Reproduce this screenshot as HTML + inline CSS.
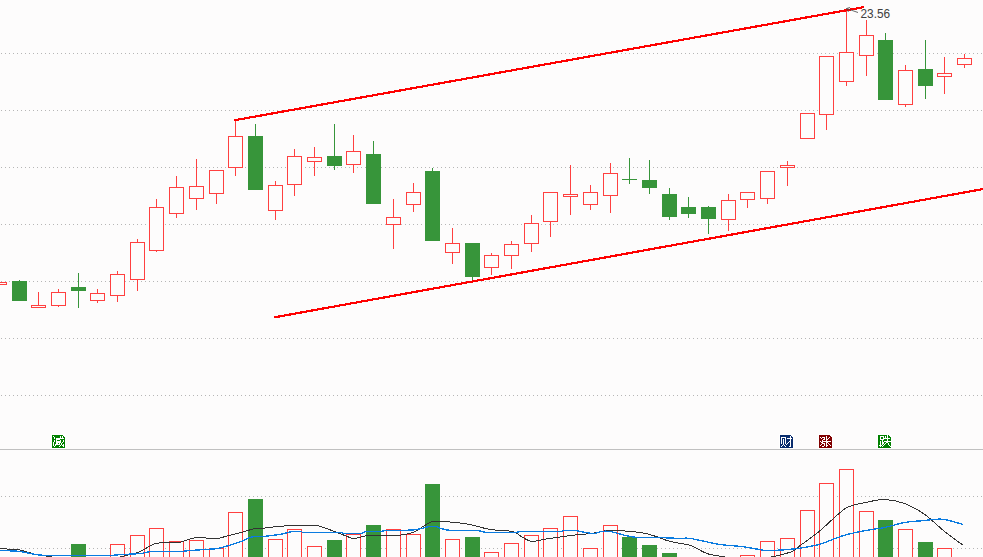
<!DOCTYPE html>
<html><head><meta charset="utf-8"><title>chart</title>
<style>html,body{margin:0;padding:0;background:#fdfcfc;overflow:hidden}svg{display:block}</style></head>
<body><svg width="983" height="557" viewBox="0 0 983 557">
<rect width="983" height="557" fill="#fdfcfc"/>
<g shape-rendering="crispEdges">
<line x1="1" y1="53.5" x2="983" y2="53.5" stroke="#b6b6b6" stroke-dasharray="1 3"/>
<line x1="1" y1="110.5" x2="983" y2="110.5" stroke="#b6b6b6" stroke-dasharray="1 3"/>
<line x1="1" y1="167.5" x2="983" y2="167.5" stroke="#b6b6b6" stroke-dasharray="1 3"/>
<line x1="1" y1="224.5" x2="983" y2="224.5" stroke="#b6b6b6" stroke-dasharray="1 3"/>
<line x1="1" y1="281.5" x2="983" y2="281.5" stroke="#b6b6b6" stroke-dasharray="1 3"/>
<line x1="1" y1="338.5" x2="983" y2="338.5" stroke="#b6b6b6" stroke-dasharray="1 3"/>
<line x1="1" y1="395.5" x2="983" y2="395.5" stroke="#b6b6b6" stroke-dasharray="1 3"/>
<line x1="1" y1="496.5" x2="983" y2="496.5" stroke="#b6b6b6" stroke-dasharray="1 3"/>
<line x1="1" y1="548.5" x2="983" y2="548.5" stroke="#b6b6b6" stroke-dasharray="1 3"/>
<rect x="0" y="449" width="983" height="1" fill="#c0c0c0"/>
<rect x="71" y="544" width="15" height="15" fill="#37953a"/>
<rect x="110.5" y="544.5" width="14" height="17" fill="#fdfcfc" stroke="#ff4040"/>
<rect x="130.5" y="535.5" width="14" height="26" fill="#fdfcfc" stroke="#ff4040"/>
<rect x="149.5" y="528.5" width="14" height="33" fill="#fdfcfc" stroke="#ff4040"/>
<rect x="169.5" y="541.5" width="14" height="20" fill="#fdfcfc" stroke="#ff4040"/>
<rect x="189.5" y="540.5" width="14" height="21" fill="#fdfcfc" stroke="#ff4040"/>
<rect x="209.5" y="548.5" width="14" height="13" fill="#fdfcfc" stroke="#ff4040"/>
<rect x="228.5" y="512.5" width="14" height="49" fill="#fdfcfc" stroke="#ff4040"/>
<rect x="248" y="499" width="15" height="60" fill="#37953a"/>
<rect x="268.5" y="539.5" width="14" height="22" fill="#fdfcfc" stroke="#ff4040"/>
<rect x="287.5" y="529.5" width="14" height="32" fill="#fdfcfc" stroke="#ff4040"/>
<rect x="307.5" y="546.5" width="14" height="15" fill="#fdfcfc" stroke="#ff4040"/>
<rect x="327" y="540" width="15" height="19" fill="#37953a"/>
<rect x="346.5" y="534.5" width="14" height="27" fill="#fdfcfc" stroke="#ff4040"/>
<rect x="366" y="525" width="15" height="34" fill="#37953a"/>
<rect x="386.5" y="529.5" width="14" height="32" fill="#fdfcfc" stroke="#ff4040"/>
<rect x="406.5" y="534.5" width="14" height="27" fill="#fdfcfc" stroke="#ff4040"/>
<rect x="425" y="484" width="15" height="75" fill="#37953a"/>
<rect x="445.5" y="539.5" width="14" height="22" fill="#fdfcfc" stroke="#ff4040"/>
<rect x="465" y="537" width="15" height="22" fill="#37953a"/>
<rect x="484.5" y="552.5" width="14" height="9" fill="#fdfcfc" stroke="#ff4040"/>
<rect x="504.5" y="543.5" width="14" height="18" fill="#fdfcfc" stroke="#ff4040"/>
<rect x="524.5" y="535.5" width="14" height="26" fill="#fdfcfc" stroke="#ff4040"/>
<rect x="543.5" y="528.5" width="14" height="33" fill="#fdfcfc" stroke="#ff4040"/>
<rect x="563.5" y="516.5" width="14" height="45" fill="#fdfcfc" stroke="#ff4040"/>
<rect x="583.5" y="548.5" width="14" height="13" fill="#fdfcfc" stroke="#ff4040"/>
<rect x="603.5" y="525.5" width="14" height="36" fill="#fdfcfc" stroke="#ff4040"/>
<rect x="622" y="537" width="15" height="22" fill="#37953a"/>
<rect x="642" y="545" width="15" height="14" fill="#37953a"/>
<rect x="662" y="553" width="15" height="6" fill="#37953a"/>
<rect x="740.5" y="555.5" width="14" height="6" fill="#fdfcfc" stroke="#ff4040"/>
<rect x="760.5" y="541.5" width="14" height="20" fill="#fdfcfc" stroke="#ff4040"/>
<rect x="780.5" y="538.5" width="14" height="23" fill="#fdfcfc" stroke="#ff4040"/>
<rect x="800.5" y="510.5" width="14" height="51" fill="#fdfcfc" stroke="#ff4040"/>
<rect x="819.5" y="483.5" width="14" height="78" fill="#fdfcfc" stroke="#ff4040"/>
<rect x="839.5" y="469.5" width="14" height="92" fill="#fdfcfc" stroke="#ff4040"/>
<rect x="859.5" y="511.5" width="14" height="50" fill="#fdfcfc" stroke="#ff4040"/>
<rect x="878" y="520" width="15" height="39" fill="#37953a"/>
<rect x="898.5" y="529.5" width="14" height="32" fill="#fdfcfc" stroke="#ff4040"/>
<rect x="918" y="542" width="15" height="17" fill="#37953a"/>
<rect x="937.5" y="548.5" width="14" height="13" fill="#fdfcfc" stroke="#ff4040"/>
</g>
<path shape-rendering="crispEdges" fill="none" stroke="#333333" stroke-width="1" d="M0 548.5 C2.3 548.7 10.3 549.2 14 549.5 C17.7 549.8 18.8 549.7 22.4 550.5 C26.0 551.3 31.0 553.5 35.6 554.5 C40.2 555.5 45.7 555.8 49.8 556.5 C53.9 557.2 50.0 558.2 60 558.5 C70.0 558.8 99.7 558.8 110 558.5 C120.3 558.2 116.9 557.7 122 556.5 C127.1 555.3 134.8 553.7 140.4 551.5 C146.0 549.3 149.2 545.0 155.6 543.5 C162.0 542.0 173.6 543.2 179 542.5 C184.4 541.8 185.2 540.3 188.1 539.5 C191.0 538.7 193.8 537.8 196.3 537.5 C198.9 537.2 201.4 537.3 203.4 537.5 C205.4 537.7 206.1 538.3 208.5 538.5 C210.9 538.7 214.2 539.0 217.6 538.5 C221.0 538.0 224.9 536.5 228.8 535.5 C232.7 534.5 236.6 533.7 241 532.5 C245.4 531.3 251.6 529.2 255.3 528.5 C259.0 527.8 261.4 528.7 263.4 528.5 C265.4 528.3 264.8 527.8 267.5 527.5 C270.2 527.2 275.8 526.8 279.7 526.5 C283.6 526.2 285.1 525.7 290.9 525.5 C296.7 525.3 309.4 525.3 314.3 525.5 C319.2 525.7 317.0 525.5 320.4 526.5 C323.8 527.5 330.5 530.0 334.6 531.5 C338.7 533.0 341.8 534.3 344.8 535.5 C347.9 536.7 350.5 538.2 352.9 538.5 C355.3 538.8 356.3 538.0 359 537.5 C361.7 537.0 362.9 535.8 369.2 535.5 C375.5 535.2 389.3 536.0 396.6 535.5 C403.9 535.0 408.5 534.0 412.9 532.5 C417.3 531.0 419.9 528.3 423.1 526.5 C426.3 524.7 429.1 522.3 432.2 521.5 C435.2 520.7 437.5 521.3 441.4 521.5 C445.3 521.7 450.9 522.0 455.6 522.5 C460.4 523.0 464.1 523.3 469.9 524.5 C475.7 525.7 483.1 528.3 490.2 529.5 C497.3 530.7 507.2 530.2 512.6 531.5 C518.0 532.8 519.6 535.8 522.8 537.5 C526.0 539.2 528.5 541.2 531.9 541.5 C535.3 541.8 539.0 540.2 543.1 539.5 C547.2 538.8 551.7 538.2 556.3 537.5 C560.9 536.8 564.7 536.2 570.5 535.5 C576.3 534.8 584.4 534.3 590.9 533.5 C597.4 532.7 602.4 530.8 609.2 530.5 C616.0 530.2 625.5 531.0 631.6 531.5 C637.7 532.0 641.7 532.7 645.8 533.5 C649.9 534.3 651.9 535.2 656 536.5 C660.1 537.8 664.4 540.0 670.2 541.5 C676.0 543.0 684.5 543.5 690.6 545.5 C696.7 547.5 701.5 551.7 706.8 553.5 C712.0 555.3 717.4 555.7 722.1 556.5 C726.8 557.3 728.7 558.2 735 558.5 C741.3 558.8 753.6 558.8 760 558.5 C766.4 558.2 768.1 557.7 773.5 556.5 C778.9 555.3 787.7 553.3 792.2 551.5 C796.7 549.7 795.8 548.8 800.3 545.5 C804.8 542.2 813.6 535.8 819 531.5 C824.4 527.2 827.7 523.5 832.4 519.5 C837.1 515.5 841.5 510.3 847.1 507.5 C852.7 504.7 859.6 503.8 865.8 502.5 C872.0 501.2 878.0 499.3 884.5 499.5 C891.0 499.7 897.9 501.0 904.6 503.5 C911.3 506.0 918.2 510.0 924.7 514.5 C931.2 519.0 937.0 525.3 943.4 530.5 C949.8 535.7 960.1 543.0 963.4 545.5"/>
<path shape-rendering="crispEdges" fill="none" stroke="#0a7be0" stroke-width="1.35" d="M0 550.5 C3.4 550.7 14.4 550.8 20.3 551.5 C26.2 552.2 30.5 553.8 35.6 554.5 C40.7 555.2 39.2 555.3 50.9 555.5 C62.6 555.7 94.0 555.7 105.8 555.5 C117.6 555.3 116.2 554.8 122 554.5 C127.8 554.2 135.3 554.0 140.4 553.5 C145.5 553.0 146.2 551.8 152.6 551.5 C159.0 551.2 172.7 551.7 179 551.5 C185.3 551.3 186.0 550.8 190.2 550.5 C194.4 550.2 199.8 549.8 204.4 549.5 C209.0 549.2 213.5 549.2 217.6 548.5 C221.7 547.8 224.9 546.7 228.8 545.5 C232.7 544.3 237.4 542.8 241 541.5 C244.6 540.2 247.8 538.3 250.2 537.5 C252.6 536.7 253.1 536.7 255.3 536.5 C257.5 536.3 260.7 536.7 263.4 536.5 C266.1 536.3 268.9 535.8 271.6 535.5 C274.3 535.2 277.0 535.0 279.7 534.5 C282.4 534.0 285.6 533.0 287.8 532.5 C290.0 532.0 290.7 531.7 292.9 531.5 C295.1 531.3 298.9 531.3 301.1 531.5 C303.3 531.7 299.8 532.3 306.1 532.5 C312.4 532.7 332.2 532.3 338.7 532.5 C345.1 532.7 341.1 533.3 344.8 533.5 C348.5 533.7 357.6 533.8 361.1 533.5 C364.7 533.2 362.9 531.8 366.1 531.5 C369.3 531.2 376.9 531.7 380.3 531.5 C383.7 531.3 383.0 530.7 386.4 530.5 C389.8 530.3 395.6 530.7 400.7 530.5 C405.8 530.3 412.2 530.2 417 529.5 C421.8 528.8 426.1 527.0 429.2 526.5 C432.2 526.0 433.3 526.2 435.3 526.5 C437.3 526.8 438.7 527.8 441.4 528.5 C444.1 529.2 445.8 530.2 451.6 530.5 C457.4 530.8 469.9 530.2 476 530.5 C482.1 530.8 481.8 532.2 488.2 532.5 C494.6 532.8 508.8 532.7 514.6 532.5 C520.4 532.3 515.5 531.7 522.8 531.5 C530.1 531.3 551.4 531.7 558.3 531.5 C565.2 531.3 561.7 530.7 564.4 530.5 C567.1 530.3 569.9 530.0 574.6 530.5 C579.4 531.0 588.5 533.3 592.9 533.5 C597.3 533.7 598.1 531.8 601 531.5 C603.9 531.2 606.1 530.8 610.2 531.5 C614.3 532.2 620.9 534.5 625.5 535.5 C630.1 536.5 632.3 537.2 637.7 537.5 C643.1 537.8 650.9 537.3 658 537.5 C665.1 537.7 675.0 538.3 680.4 538.5 C685.8 538.7 684.0 537.5 690.6 538.5 C697.2 539.5 711.5 543.2 720 544.5 C728.5 545.8 733.8 545.5 741.4 546.5 C749.0 547.5 760.1 549.8 765.5 550.5 C770.9 551.2 768.1 550.8 773.5 550.5 C778.9 550.2 790.0 549.5 797.6 548.5 C805.2 547.5 813.2 546.0 819 544.5 C824.8 543.0 827.7 541.2 832.4 539.5 C837.1 537.8 841.5 536.0 847.1 534.5 C852.7 533.0 859.6 531.7 865.8 530.5 C872.0 529.3 878.0 528.8 884.5 527.5 C891.0 526.2 897.9 523.7 904.6 522.5 C911.3 521.3 919.8 521.0 924.7 520.5 C929.6 520.0 930.7 519.7 934 519.5 C937.3 519.3 939.8 518.7 944.7 519.5 C949.6 520.3 960.3 523.7 963.4 524.5"/>
<g shape-rendering="crispEdges">
<rect x="-7.5" y="282.5" width="14" height="2" fill="#fdfcfc" stroke="#ff4040"/>
<rect x="19" y="280" width="1" height="21" fill="#37953a"/>
<rect x="12" y="281" width="15" height="20" fill="#37953a"/>
<rect x="38" y="292" width="1" height="13" fill="#ff4040"/>
<rect x="31.5" y="305.5" width="14" height="2" fill="#fdfcfc" stroke="#ff4040"/>
<rect x="58" y="289" width="1" height="3" fill="#ff4040"/>
<rect x="58" y="306" width="1" height="1" fill="#ff4040"/>
<rect x="51.5" y="292.5" width="14" height="13" fill="#fdfcfc" stroke="#ff4040"/>
<rect x="78" y="273" width="1" height="35" fill="#37953a"/>
<rect x="71" y="287" width="15" height="4" fill="#37953a"/>
<rect x="97" y="289" width="1" height="4" fill="#ff4040"/>
<rect x="97" y="301" width="1" height="2" fill="#ff4040"/>
<rect x="90.5" y="293.5" width="14" height="7" fill="#fdfcfc" stroke="#ff4040"/>
<rect x="117" y="271" width="1" height="3" fill="#ff4040"/>
<rect x="117" y="296" width="1" height="6" fill="#ff4040"/>
<rect x="110.5" y="274.5" width="14" height="21" fill="#fdfcfc" stroke="#ff4040"/>
<rect x="137" y="239" width="1" height="3" fill="#ff4040"/>
<rect x="137" y="280" width="1" height="11" fill="#ff4040"/>
<rect x="130.5" y="242.5" width="14" height="37" fill="#fdfcfc" stroke="#ff4040"/>
<rect x="156" y="199" width="1" height="8" fill="#ff4040"/>
<rect x="156" y="251" width="1" height="1" fill="#ff4040"/>
<rect x="149.5" y="207.5" width="14" height="43" fill="#fdfcfc" stroke="#ff4040"/>
<rect x="176" y="176" width="1" height="11" fill="#ff4040"/>
<rect x="176" y="214" width="1" height="4" fill="#ff4040"/>
<rect x="169.5" y="187.5" width="14" height="26" fill="#fdfcfc" stroke="#ff4040"/>
<rect x="196" y="159" width="1" height="27" fill="#ff4040"/>
<rect x="196" y="199" width="1" height="11" fill="#ff4040"/>
<rect x="189.5" y="186.5" width="14" height="12" fill="#fdfcfc" stroke="#ff4040"/>
<rect x="216" y="194" width="1" height="10" fill="#ff4040"/>
<rect x="209.5" y="170.5" width="14" height="23" fill="#fdfcfc" stroke="#ff4040"/>
<rect x="235" y="120" width="1" height="16" fill="#ff4040"/>
<rect x="235" y="168" width="1" height="8" fill="#ff4040"/>
<rect x="228.5" y="136.5" width="14" height="31" fill="#fdfcfc" stroke="#ff4040"/>
<rect x="255" y="124" width="1" height="66" fill="#37953a"/>
<rect x="248" y="136" width="15" height="54" fill="#37953a"/>
<rect x="275" y="181" width="1" height="4" fill="#ff4040"/>
<rect x="275" y="211" width="1" height="9" fill="#ff4040"/>
<rect x="268.5" y="185.5" width="14" height="25" fill="#fdfcfc" stroke="#ff4040"/>
<rect x="294" y="149" width="1" height="7" fill="#ff4040"/>
<rect x="294" y="185" width="1" height="11" fill="#ff4040"/>
<rect x="287.5" y="156.5" width="14" height="28" fill="#fdfcfc" stroke="#ff4040"/>
<rect x="314" y="147" width="1" height="10" fill="#ff4040"/>
<rect x="314" y="162" width="1" height="14" fill="#ff4040"/>
<rect x="307.5" y="157.5" width="14" height="4" fill="#fdfcfc" stroke="#ff4040"/>
<rect x="334" y="124" width="1" height="46" fill="#37953a"/>
<rect x="327" y="156" width="15" height="10" fill="#37953a"/>
<rect x="353" y="135" width="1" height="16" fill="#ff4040"/>
<rect x="353" y="165" width="1" height="8" fill="#ff4040"/>
<rect x="346.5" y="151.5" width="14" height="13" fill="#fdfcfc" stroke="#ff4040"/>
<rect x="373" y="141" width="1" height="63" fill="#37953a"/>
<rect x="366" y="154" width="15" height="50" fill="#37953a"/>
<rect x="393" y="199" width="1" height="18" fill="#ff4040"/>
<rect x="393" y="225" width="1" height="24" fill="#ff4040"/>
<rect x="386.5" y="217.5" width="14" height="7" fill="#fdfcfc" stroke="#ff4040"/>
<rect x="413" y="183" width="1" height="9" fill="#ff4040"/>
<rect x="413" y="205" width="1" height="7" fill="#ff4040"/>
<rect x="406.5" y="192.5" width="14" height="12" fill="#fdfcfc" stroke="#ff4040"/>
<rect x="432" y="168" width="1" height="73" fill="#37953a"/>
<rect x="425" y="171" width="15" height="70" fill="#37953a"/>
<rect x="452" y="228" width="1" height="15" fill="#ff4040"/>
<rect x="452" y="253" width="1" height="11" fill="#ff4040"/>
<rect x="445.5" y="243.5" width="14" height="9" fill="#fdfcfc" stroke="#ff4040"/>
<rect x="472" y="243" width="1" height="37" fill="#37953a"/>
<rect x="465" y="243" width="15" height="34" fill="#37953a"/>
<rect x="491" y="253" width="1" height="2" fill="#ff4040"/>
<rect x="491" y="268" width="1" height="7" fill="#ff4040"/>
<rect x="484.5" y="255.5" width="14" height="12" fill="#fdfcfc" stroke="#ff4040"/>
<rect x="511" y="241" width="1" height="3" fill="#ff4040"/>
<rect x="511" y="256" width="1" height="13" fill="#ff4040"/>
<rect x="504.5" y="244.5" width="14" height="11" fill="#fdfcfc" stroke="#ff4040"/>
<rect x="531" y="215" width="1" height="8" fill="#ff4040"/>
<rect x="531" y="244" width="1" height="8" fill="#ff4040"/>
<rect x="524.5" y="223.5" width="14" height="20" fill="#fdfcfc" stroke="#ff4040"/>
<rect x="550" y="222" width="1" height="15" fill="#ff4040"/>
<rect x="543.5" y="192.5" width="14" height="29" fill="#fdfcfc" stroke="#ff4040"/>
<rect x="570" y="165" width="1" height="29" fill="#ff4040"/>
<rect x="570" y="197" width="1" height="18" fill="#ff4040"/>
<rect x="563.5" y="194.5" width="14" height="2" fill="#fdfcfc" stroke="#ff4040"/>
<rect x="590" y="185" width="1" height="7" fill="#ff4040"/>
<rect x="590" y="205" width="1" height="5" fill="#ff4040"/>
<rect x="583.5" y="192.5" width="14" height="12" fill="#fdfcfc" stroke="#ff4040"/>
<rect x="610" y="163" width="1" height="10" fill="#ff4040"/>
<rect x="610" y="196" width="1" height="17" fill="#ff4040"/>
<rect x="603.5" y="173.5" width="14" height="22" fill="#fdfcfc" stroke="#ff4040"/>
<rect x="629" y="158" width="1" height="26" fill="#37953a"/>
<rect x="622" y="179" width="15" height="1" fill="#37953a"/>
<rect x="649" y="160" width="1" height="34" fill="#37953a"/>
<rect x="642" y="180" width="15" height="8" fill="#37953a"/>
<rect x="669" y="188" width="1" height="32" fill="#37953a"/>
<rect x="662" y="194" width="15" height="23" fill="#37953a"/>
<rect x="688" y="197" width="1" height="21" fill="#37953a"/>
<rect x="681" y="207" width="15" height="7" fill="#37953a"/>
<rect x="708" y="206" width="1" height="28" fill="#37953a"/>
<rect x="701" y="207" width="15" height="12" fill="#37953a"/>
<rect x="728" y="194" width="1" height="6" fill="#ff4040"/>
<rect x="728" y="220" width="1" height="11" fill="#ff4040"/>
<rect x="721.5" y="200.5" width="14" height="19" fill="#fdfcfc" stroke="#ff4040"/>
<rect x="747" y="200" width="1" height="8" fill="#ff4040"/>
<rect x="740.5" y="192.5" width="14" height="7" fill="#fdfcfc" stroke="#ff4040"/>
<rect x="767" y="199" width="1" height="5" fill="#ff4040"/>
<rect x="760.5" y="171.5" width="14" height="27" fill="#fdfcfc" stroke="#ff4040"/>
<rect x="787" y="161" width="1" height="4" fill="#ff4040"/>
<rect x="787" y="168" width="1" height="18" fill="#ff4040"/>
<rect x="780.5" y="165.5" width="14" height="2" fill="#fdfcfc" stroke="#ff4040"/>
<rect x="800.5" y="113.5" width="14" height="25" fill="#fdfcfc" stroke="#ff4040"/>
<rect x="826" y="115" width="1" height="15" fill="#ff4040"/>
<rect x="819.5" y="56.5" width="14" height="58" fill="#fdfcfc" stroke="#ff4040"/>
<rect x="846" y="9" width="1" height="43" fill="#ff4040"/>
<rect x="846" y="82" width="1" height="4" fill="#ff4040"/>
<rect x="839.5" y="52.5" width="14" height="29" fill="#fdfcfc" stroke="#ff4040"/>
<rect x="866" y="20" width="1" height="15" fill="#ff4040"/>
<rect x="866" y="56" width="1" height="20" fill="#ff4040"/>
<rect x="859.5" y="35.5" width="14" height="20" fill="#fdfcfc" stroke="#ff4040"/>
<rect x="885" y="33" width="1" height="67" fill="#37953a"/>
<rect x="878" y="40" width="15" height="60" fill="#37953a"/>
<rect x="905" y="65" width="1" height="5" fill="#ff4040"/>
<rect x="905" y="105" width="1" height="2" fill="#ff4040"/>
<rect x="898.5" y="70.5" width="14" height="34" fill="#fdfcfc" stroke="#ff4040"/>
<rect x="925" y="40" width="1" height="59" fill="#37953a"/>
<rect x="918" y="69" width="15" height="17" fill="#37953a"/>
<rect x="944" y="57" width="1" height="16" fill="#ff4040"/>
<rect x="944" y="77" width="1" height="17" fill="#ff4040"/>
<rect x="937.5" y="73.5" width="14" height="3" fill="#fdfcfc" stroke="#ff4040"/>
<rect x="964" y="54" width="1" height="4" fill="#ff4040"/>
<rect x="964" y="65" width="1" height="3" fill="#ff4040"/>
<rect x="957.5" y="58.5" width="14" height="6" fill="#fdfcfc" stroke="#ff4040"/>
<line x1="234" y1="120.35" x2="864" y2="7.1" stroke="#ff0000" stroke-width="2.2"/>
<line x1="274" y1="317.4" x2="990" y2="187.8" stroke="#ff0000" stroke-width="2.2"/>
</g>
<path d="M846.5 8.5 L858 12.5 M846.5 8.5 L850 7.5 M846.5 8.5 L848.5 12" fill="none" stroke="#444" stroke-width="0.8"/>
<text x="860.5" y="18" font-family="Liberation Sans, sans-serif" font-size="12.5" textLength="29.6" lengthAdjust="spacingAndGlyphs" fill="#404040">23.56</text>
<g shape-rendering="crispEdges"><rect x="51" y="434" width="15" height="15" fill="#fff"/><path d="M52 435 h10.5 l2.5 2.5 v10.5 h-13 z" fill="#008000"/><rect x="53" y="436" width="1" height="1" fill="#fff"/><rect x="60" y="436" width="1" height="1" fill="#fff"/><rect x="62" y="436" width="1" height="1" fill="#fff"/><rect x="54" y="437" width="1" height="1" fill="#fff"/><rect x="60" y="437" width="1" height="1" fill="#fff"/><rect x="62" y="437" width="1" height="1" fill="#fff"/><rect x="54" y="438" width="1" height="1" fill="#fff"/><rect x="56" y="438" width="1" height="1" fill="#fff"/><rect x="57" y="438" width="1" height="1" fill="#fff"/><rect x="58" y="438" width="1" height="1" fill="#fff"/><rect x="59" y="438" width="1" height="1" fill="#fff"/><rect x="60" y="438" width="1" height="1" fill="#fff"/><rect x="61" y="438" width="1" height="1" fill="#fff"/><rect x="62" y="438" width="1" height="1" fill="#fff"/><rect x="63" y="438" width="1" height="1" fill="#fff"/><rect x="56" y="439" width="1" height="1" fill="#fff"/><rect x="57" y="439" width="1" height="1" fill="#fff"/><rect x="58" y="439" width="1" height="1" fill="#fff"/><rect x="59" y="439" width="1" height="1" fill="#fff"/><rect x="54" y="440" width="1" height="1" fill="#fff"/><rect x="56" y="440" width="1" height="1" fill="#fff"/><rect x="60" y="440" width="1" height="1" fill="#fff"/><rect x="63" y="440" width="1" height="1" fill="#fff"/><rect x="54" y="441" width="1" height="1" fill="#fff"/><rect x="56" y="441" width="1" height="1" fill="#fff"/><rect x="57" y="441" width="1" height="1" fill="#fff"/><rect x="58" y="441" width="1" height="1" fill="#fff"/><rect x="59" y="441" width="1" height="1" fill="#fff"/><rect x="60" y="441" width="1" height="1" fill="#fff"/><rect x="63" y="441" width="1" height="1" fill="#fff"/><rect x="53" y="442" width="1" height="1" fill="#fff"/><rect x="56" y="442" width="1" height="1" fill="#fff"/><rect x="57" y="442" width="1" height="1" fill="#fff"/><rect x="58" y="442" width="1" height="1" fill="#fff"/><rect x="59" y="442" width="1" height="1" fill="#fff"/><rect x="60" y="442" width="1" height="1" fill="#fff"/><rect x="62" y="442" width="1" height="1" fill="#fff"/><rect x="53" y="443" width="1" height="1" fill="#fff"/><rect x="56" y="443" width="1" height="1" fill="#fff"/><rect x="57" y="443" width="1" height="1" fill="#fff"/><rect x="59" y="443" width="1" height="1" fill="#fff"/><rect x="61" y="443" width="1" height="1" fill="#fff"/><rect x="53" y="444" width="1" height="1" fill="#fff"/><rect x="55" y="444" width="1" height="1" fill="#fff"/><rect x="56" y="444" width="1" height="1" fill="#fff"/><rect x="57" y="444" width="1" height="1" fill="#fff"/><rect x="58" y="444" width="1" height="1" fill="#fff"/><rect x="59" y="444" width="1" height="1" fill="#fff"/><rect x="61" y="444" width="1" height="1" fill="#fff"/><rect x="63" y="444" width="1" height="1" fill="#fff"/><rect x="53" y="445" width="1" height="1" fill="#fff"/><rect x="55" y="445" width="1" height="1" fill="#fff"/><rect x="60" y="445" width="1" height="1" fill="#fff"/><rect x="62" y="445" width="1" height="1" fill="#fff"/><rect x="63" y="445" width="1" height="1" fill="#fff"/><rect x="54" y="446" width="1" height="1" fill="#fff"/><rect x="59" y="446" width="1" height="1" fill="#fff"/><rect x="63" y="446" width="1" height="1" fill="#fff"/></g>
<g shape-rendering="crispEdges"><rect x="779" y="434" width="15" height="15" fill="#fff"/><path d="M780 435 h10.5 l2.5 2.5 v10.5 h-13 z" fill="#0a2d6e"/><rect x="790" y="436" width="1" height="1" fill="#fff"/><rect x="781" y="437" width="1" height="1" fill="#fff"/><rect x="782" y="437" width="1" height="1" fill="#fff"/><rect x="783" y="437" width="1" height="1" fill="#fff"/><rect x="784" y="437" width="1" height="1" fill="#fff"/><rect x="785" y="437" width="1" height="1" fill="#fff"/><rect x="790" y="437" width="1" height="1" fill="#fff"/><rect x="781" y="438" width="1" height="1" fill="#fff"/><rect x="785" y="438" width="1" height="1" fill="#fff"/><rect x="787" y="438" width="1" height="1" fill="#fff"/><rect x="788" y="438" width="1" height="1" fill="#fff"/><rect x="789" y="438" width="1" height="1" fill="#fff"/><rect x="790" y="438" width="1" height="1" fill="#fff"/><rect x="791" y="438" width="1" height="1" fill="#fff"/><rect x="781" y="439" width="1" height="1" fill="#fff"/><rect x="783" y="439" width="1" height="1" fill="#fff"/><rect x="785" y="439" width="1" height="1" fill="#fff"/><rect x="790" y="439" width="1" height="1" fill="#fff"/><rect x="781" y="440" width="1" height="1" fill="#fff"/><rect x="783" y="440" width="1" height="1" fill="#fff"/><rect x="785" y="440" width="1" height="1" fill="#fff"/><rect x="790" y="440" width="1" height="1" fill="#fff"/><rect x="781" y="441" width="1" height="1" fill="#fff"/><rect x="783" y="441" width="1" height="1" fill="#fff"/><rect x="785" y="441" width="1" height="1" fill="#fff"/><rect x="789" y="441" width="1" height="1" fill="#fff"/><rect x="790" y="441" width="1" height="1" fill="#fff"/><rect x="781" y="442" width="1" height="1" fill="#fff"/><rect x="783" y="442" width="1" height="1" fill="#fff"/><rect x="785" y="442" width="1" height="1" fill="#fff"/><rect x="788" y="442" width="1" height="1" fill="#fff"/><rect x="790" y="442" width="1" height="1" fill="#fff"/><rect x="781" y="443" width="1" height="1" fill="#fff"/><rect x="783" y="443" width="1" height="1" fill="#fff"/><rect x="785" y="443" width="1" height="1" fill="#fff"/><rect x="787" y="443" width="1" height="1" fill="#fff"/><rect x="790" y="443" width="1" height="1" fill="#fff"/><rect x="783" y="444" width="1" height="1" fill="#fff"/><rect x="786" y="444" width="1" height="1" fill="#fff"/><rect x="790" y="444" width="1" height="1" fill="#fff"/><rect x="782" y="445" width="1" height="1" fill="#fff"/><rect x="784" y="445" width="1" height="1" fill="#fff"/><rect x="790" y="445" width="1" height="1" fill="#fff"/><rect x="781" y="446" width="1" height="1" fill="#fff"/><rect x="785" y="446" width="1" height="1" fill="#fff"/><rect x="789" y="446" width="1" height="1" fill="#fff"/><rect x="790" y="446" width="1" height="1" fill="#fff"/></g>
<g shape-rendering="crispEdges"><rect x="818" y="434" width="15" height="15" fill="#fff"/><path d="M819 435 h10.5 l2.5 2.5 v10.5 h-13 z" fill="#800000"/><rect x="826" y="436" width="1" height="1" fill="#fff"/><rect x="820" y="437" width="1" height="1" fill="#fff"/><rect x="822" y="437" width="1" height="1" fill="#fff"/><rect x="823" y="437" width="1" height="1" fill="#fff"/><rect x="824" y="437" width="1" height="1" fill="#fff"/><rect x="826" y="437" width="1" height="1" fill="#fff"/><rect x="829" y="437" width="1" height="1" fill="#fff"/><rect x="821" y="438" width="1" height="1" fill="#fff"/><rect x="824" y="438" width="1" height="1" fill="#fff"/><rect x="826" y="438" width="1" height="1" fill="#fff"/><rect x="828" y="438" width="1" height="1" fill="#fff"/><rect x="823" y="439" width="1" height="1" fill="#fff"/><rect x="824" y="439" width="1" height="1" fill="#fff"/><rect x="826" y="439" width="1" height="1" fill="#fff"/><rect x="827" y="439" width="1" height="1" fill="#fff"/><rect x="822" y="440" width="1" height="1" fill="#fff"/><rect x="826" y="440" width="1" height="1" fill="#fff"/><rect x="820" y="441" width="1" height="1" fill="#fff"/><rect x="822" y="441" width="1" height="1" fill="#fff"/><rect x="823" y="441" width="1" height="1" fill="#fff"/><rect x="824" y="441" width="1" height="1" fill="#fff"/><rect x="825" y="441" width="1" height="1" fill="#fff"/><rect x="826" y="441" width="1" height="1" fill="#fff"/><rect x="827" y="441" width="1" height="1" fill="#fff"/><rect x="828" y="441" width="1" height="1" fill="#fff"/><rect x="829" y="441" width="1" height="1" fill="#fff"/><rect x="830" y="441" width="1" height="1" fill="#fff"/><rect x="821" y="442" width="1" height="1" fill="#fff"/><rect x="822" y="442" width="1" height="1" fill="#fff"/><rect x="826" y="442" width="1" height="1" fill="#fff"/><rect x="827" y="442" width="1" height="1" fill="#fff"/><rect x="822" y="443" width="1" height="1" fill="#fff"/><rect x="823" y="443" width="1" height="1" fill="#fff"/><rect x="824" y="443" width="1" height="1" fill="#fff"/><rect x="826" y="443" width="1" height="1" fill="#fff"/><rect x="828" y="443" width="1" height="1" fill="#fff"/><rect x="821" y="444" width="1" height="1" fill="#fff"/><rect x="824" y="444" width="1" height="1" fill="#fff"/><rect x="826" y="444" width="1" height="1" fill="#fff"/><rect x="829" y="444" width="1" height="1" fill="#fff"/><rect x="820" y="445" width="1" height="1" fill="#fff"/><rect x="824" y="445" width="1" height="1" fill="#fff"/><rect x="826" y="445" width="1" height="1" fill="#fff"/><rect x="827" y="445" width="1" height="1" fill="#fff"/><rect x="830" y="445" width="1" height="1" fill="#fff"/><rect x="822" y="446" width="1" height="1" fill="#fff"/><rect x="823" y="446" width="1" height="1" fill="#fff"/><rect x="826" y="446" width="1" height="1" fill="#fff"/></g>
<g shape-rendering="crispEdges"><rect x="877" y="434" width="15" height="15" fill="#fff"/><path d="M878 435 h10.5 l2.5 2.5 v10.5 h-13 z" fill="#008000"/><rect x="887" y="435" width="1" height="1" fill="#fff"/><rect x="880" y="436" width="1" height="1" fill="#fff"/><rect x="881" y="436" width="1" height="1" fill="#fff"/><rect x="882" y="436" width="1" height="1" fill="#fff"/><rect x="883" y="436" width="1" height="1" fill="#fff"/><rect x="885" y="436" width="1" height="1" fill="#fff"/><rect x="887" y="436" width="1" height="1" fill="#fff"/><rect x="880" y="437" width="1" height="1" fill="#fff"/><rect x="883" y="437" width="1" height="1" fill="#fff"/><rect x="885" y="437" width="1" height="1" fill="#fff"/><rect x="887" y="437" width="1" height="1" fill="#fff"/><rect x="880" y="438" width="1" height="1" fill="#fff"/><rect x="883" y="438" width="1" height="1" fill="#fff"/><rect x="884" y="438" width="1" height="1" fill="#fff"/><rect x="885" y="438" width="1" height="1" fill="#fff"/><rect x="886" y="438" width="1" height="1" fill="#fff"/><rect x="887" y="438" width="1" height="1" fill="#fff"/><rect x="888" y="438" width="1" height="1" fill="#fff"/><rect x="889" y="438" width="1" height="1" fill="#fff"/><rect x="880" y="439" width="1" height="1" fill="#fff"/><rect x="881" y="439" width="1" height="1" fill="#fff"/><rect x="882" y="439" width="1" height="1" fill="#fff"/><rect x="883" y="439" width="1" height="1" fill="#fff"/><rect x="887" y="439" width="1" height="1" fill="#fff"/><rect x="882" y="440" width="1" height="1" fill="#fff"/><rect x="887" y="440" width="1" height="1" fill="#fff"/><rect x="880" y="441" width="1" height="1" fill="#fff"/><rect x="882" y="441" width="1" height="1" fill="#fff"/><rect x="884" y="441" width="1" height="1" fill="#fff"/><rect x="885" y="441" width="1" height="1" fill="#fff"/><rect x="886" y="441" width="1" height="1" fill="#fff"/><rect x="887" y="441" width="1" height="1" fill="#fff"/><rect x="888" y="441" width="1" height="1" fill="#fff"/><rect x="889" y="441" width="1" height="1" fill="#fff"/><rect x="890" y="441" width="1" height="1" fill="#fff"/><rect x="880" y="442" width="1" height="1" fill="#fff"/><rect x="882" y="442" width="1" height="1" fill="#fff"/><rect x="883" y="442" width="1" height="1" fill="#fff"/><rect x="886" y="442" width="1" height="1" fill="#fff"/><rect x="887" y="442" width="1" height="1" fill="#fff"/><rect x="880" y="443" width="1" height="1" fill="#fff"/><rect x="882" y="443" width="1" height="1" fill="#fff"/><rect x="883" y="443" width="1" height="1" fill="#fff"/><rect x="885" y="443" width="1" height="1" fill="#fff"/><rect x="888" y="443" width="1" height="1" fill="#fff"/><rect x="880" y="444" width="1" height="1" fill="#fff"/><rect x="882" y="444" width="1" height="1" fill="#fff"/><rect x="884" y="444" width="1" height="1" fill="#fff"/><rect x="888" y="444" width="1" height="1" fill="#fff"/><rect x="879" y="445" width="1" height="1" fill="#fff"/><rect x="880" y="445" width="1" height="1" fill="#fff"/><rect x="881" y="445" width="1" height="1" fill="#fff"/><rect x="883" y="445" width="1" height="1" fill="#fff"/><rect x="889" y="445" width="1" height="1" fill="#fff"/><rect x="880" y="446" width="1" height="1" fill="#fff"/><rect x="882" y="446" width="1" height="1" fill="#fff"/><rect x="890" y="446" width="1" height="1" fill="#fff"/></g>
</svg></body></html>
